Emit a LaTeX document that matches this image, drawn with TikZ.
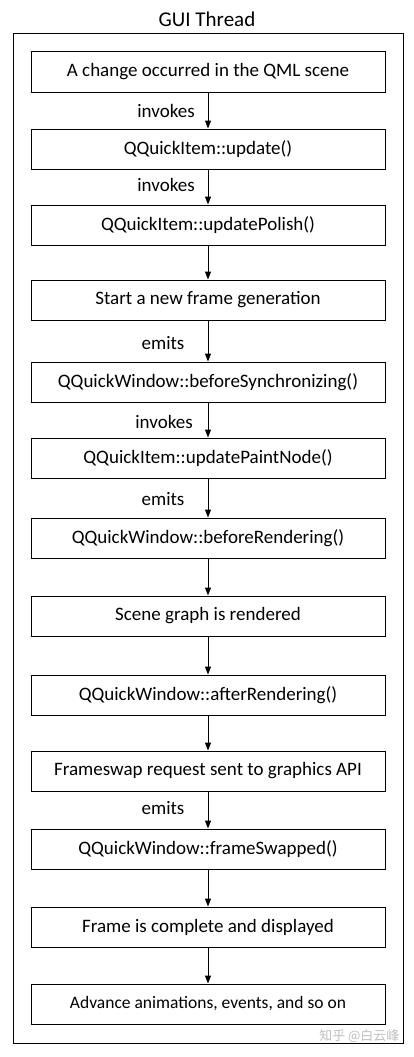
\documentclass[tikz,border=0pt]{standalone}
\usepackage{fontspec}
\setmainfont{Carlito}
\newfontfamily\cjkfont{Noto Sans CJK SC}
\usetikzlibrary{arrows.meta}

\begin{document}
\begin{tikzpicture}[x=1pt, y=-1pt,
        box/.style={draw, line width=1pt, minimum width=354pt, minimum height=40pt,
            inner sep=0pt, font=\fontsize{19}{22}\selectfont},
        lbl/.style={font=\fontsize{19}{22}\selectfont},
        arr/.style={-{Triangle[length=8pt, width=6pt]}, line width=1pt}]
                \useasboundingbox (0, 0) rectangle (413, 1057);
                \draw[line width=1pt] (13, 34) rectangle (403, 1043);
                \node[font=\fontsize{21}{24}\selectfont] (title) at (207, 19) {GUI Thread};

                \node[box] (change)  at (208, 72)    {A change occurred in the QML scene};
                \node[box] (update)  at (208, 149)   {QQuickItem::update()};
                \node[box] (polish)  at (208, 225)   {QQuickItem::updatePolish()};
                \node[box] (start)   at (208, 300)   {Start a new frame generation};
                \node[box] (beforesync) at (208, 382) {QQuickWindow::beforeSynchronizing()};
                \node[box] (paint)   at (208, 458)   {QQuickItem::updatePaintNode()};
                \node[box] (beforerender) at (208, 538) {QQuickWindow::beforeRendering()};
                \node[box] (scene)   at (208, 616)   {Scene graph is rendered};
                \node[box] (afterrender) at (208, 695) {QQuickWindow::afterRendering()};
                \node[box] (swapreq) at (208, 771)   {Frameswap request sent to graphics API};
                \node[box] (swapped) at (208, 849)   {QQuickWindow::frameSwapped()};
                \node[box] (complete) at (208, 927)  {Frame is complete and displayed};
                \node[box, font=\fontsize{17.5}{21}\selectfont] (advance) at (208, 1004) {Advance animations, events, and so on};

                \node[lbl] (inv1)  at (166, 111) {invokes};
                \node[lbl] (inv2)  at (166, 185) {invokes};
                \node[lbl] (emit1) at (163, 343) {emits};
                \node[lbl] (inv3)  at (164, 422) {invokes};
                \node[lbl] (emit2) at (163, 499) {emits};
                \node[lbl] (emit3) at (163, 808) {emits};

                \draw[arr] (change) -- (update);
                \draw[arr] (update) -- (polish);
                \draw[arr] (polish) -- (start);
                \draw[arr] (start) -- (beforesync);
                \draw[arr] (beforesync) -- (paint);
                \draw[arr] (paint) -- (beforerender);
                \draw[arr] (beforerender) -- (scene);
                \draw[arr] (scene) -- (afterrender);
                \draw[arr] (afterrender) -- (swapreq);
                \draw[arr] (swapreq) -- (swapped);
                \draw[arr] (swapped) -- (complete);
                \draw[arr] (complete) -- (advance);

                \node[text=black!25, font=\cjkfont\fontsize{13}{15}\selectfont, anchor=east] (mark) at (403, 1036) {知乎 @白云峰};
\end{tikzpicture}
\end{document}
